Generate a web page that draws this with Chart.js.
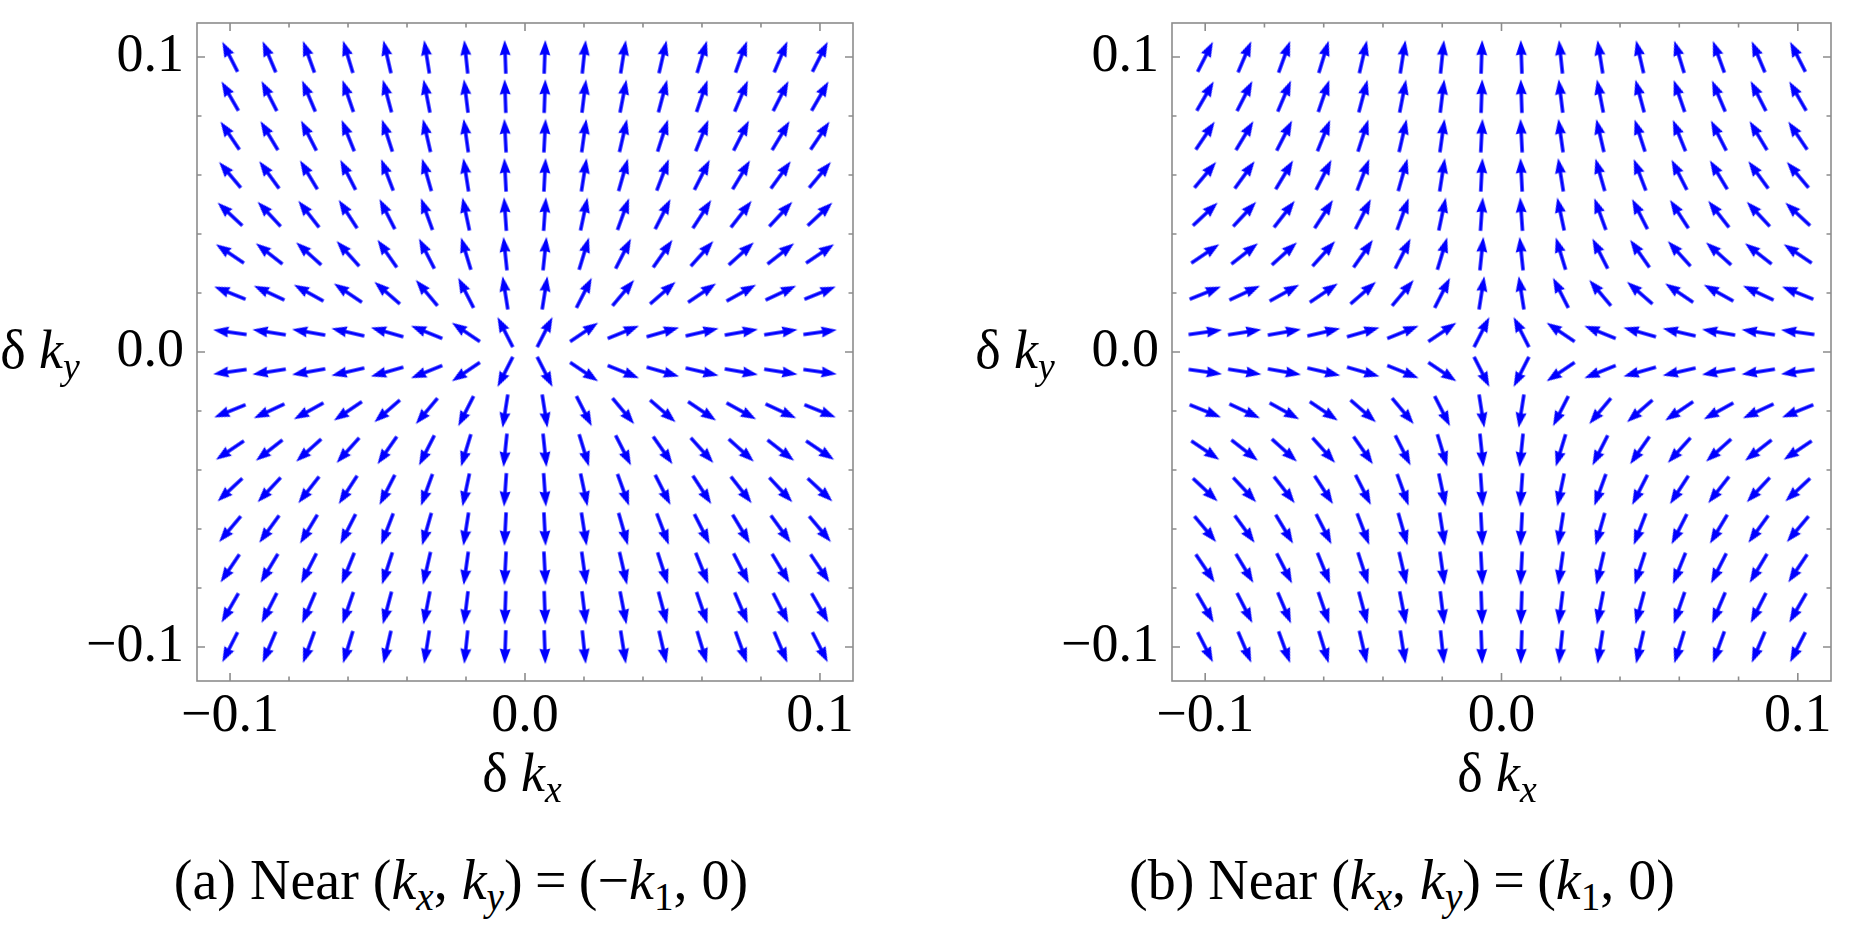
<!DOCTYPE html>
<html>
<head>
<meta charset="utf-8">
<script src="https://cdn.jsdelivr.net/npm/chart.js@4.4.0/dist/chart.umd.min.js"></script>
<style>
  body { margin: 0; background: #fff; width: 1850px; height: 932px; overflow: hidden; position: relative;
         font-family: "Liberation Serif", "Times New Roman", serif; }
  canvas { position: absolute; top: 0; }
  .lab { position: absolute; color: #000; white-space: nowrap; line-height: 1; transform: translate(-50%, -50%); }
  .axis { font-size: 54px; }
  .cap { font-size: 56px; }
  .lab sub { font-size: 0.7em; vertical-align: -0.28em; line-height: 0; }
  .m { margin: 0 0.22em; }
</style>
</head>
<body>
<canvas id="chartA" width="900" height="760" style="left:0px"></canvas>
<canvas id="chartB" width="920" height="760" style="left:930px"></canvas>

<div class="lab axis" style="left:40px; top:350px">δ <i>k<sub>y</sub></i></div>
<div class="lab axis" style="left:1015px; top:350px">δ <i>k<sub>y</sub></i></div>
<div class="lab axis" style="left:522px; top:773px">δ <i>k<sub>x</sub></i></div>
<div class="lab axis" style="left:1497px; top:773px">δ <i>k<sub>x</sub></i></div>
<div class="lab cap" style="left:461px; top:880px">(a) Near (<i>k<sub>x</sub></i>, <i>k<sub>y</sub></i>)<span class="m">=</span>(−<i>k</i><sub>1</sub>, 0)</div>
<div class="lab cap" style="left:1402px; top:880px">(b) Near (<i>k<sub>x</sub></i>, <i>k<sub>y</sub></i>)<span class="m">=</span>(<i>k</i><sub>1</sub>, 0)</div>

<script>
// arrow positions (grid of the vector plot)
const gridX = [-0.1, -0.0867, -0.0733, -0.06, -0.0467, -0.0333, -0.02, -0.0067,
               0.0067, 0.02, 0.0333, 0.0467, 0.06, 0.0733, 0.0867, 0.1];
// rows from top to bottom
const gridY = [0.1, 0.0867, 0.0733, 0.06, 0.0467, 0.0333, 0.02, 0.0067,
               -0.0067, -0.02, -0.0333, -0.0467, -0.06, -0.0733, -0.0867, -0.1];

// frame ticks
const tickValues = [-0.1, -0.08, -0.06, -0.04, -0.02, 0, 0.02, 0.04, 0.06, 0.08, 0.1];
const tickLabelValues = [-0.1, 0, 0.1];
const tickLabels = ['\u22120.1', '0.0', '0.1'];

// arrow directions in degrees (counter-clockwise from +x)
const anglesA = [
  [117, 113, 110, 107, 103, 99, 96, 92, 88, 84, 81, 77, 73, 70, 67, 63],
  [120, 117, 113, 109, 105, 101, 97, 92, 88, 83, 79, 75, 71, 67, 63, 60],
  [124, 121, 117, 112, 108, 103, 98, 93, 87, 82, 77, 72, 68, 63, 59, 56],
  [130, 126, 121, 117, 111, 106, 99, 93, 87, 81, 74, 69, 63, 59, 54, 50],
  [137, 133, 128, 123, 117, 110, 102, 94, 86, 78, 70, 63, 57, 52, 47, 43],
  [146, 142, 138, 132, 125, 117, 107, 96, 84, 73, 63, 55, 48, 42, 38, 34],
  [158, 155, 151, 146, 139, 130, 117, 99, 81, 63, 50, 41, 34, 29, 25, 22],
  [172, 171, 170, 167, 164, 158, 146, 117, 63, 34, 22, 16, 13, 10, 9, 8],
  [-172, -171, -170, -167, -164, -158, -146, -117, -63, -34, -22, -16, -13, -10, -9, -8],
  [-158, -155, -151, -146, -139, -130, -117, -99, -81, -63, -50, -41, -34, -29, -25, -22],
  [-146, -142, -138, -132, -125, -117, -107, -96, -84, -73, -63, -55, -48, -42, -38, -34],
  [-137, -133, -128, -123, -117, -110, -102, -94, -86, -78, -70, -63, -57, -52, -47, -43],
  [-130, -126, -121, -117, -111, -106, -99, -93, -87, -81, -74, -69, -63, -59, -54, -50],
  [-124, -121, -117, -112, -108, -103, -98, -93, -87, -82, -77, -72, -68, -63, -59, -56],
  [-120, -117, -113, -109, -105, -101, -97, -92, -88, -83, -79, -75, -71, -67, -63, -60],
  [-117, -113, -110, -107, -103, -99, -96, -92, -88, -84, -81, -77, -73, -70, -67, -63]
];

const anglesB = [
  [63, 67, 70, 73, 77, 81, 84, 88, 92, 96, 99, 103, 107, 110, 113, 117],
  [60, 63, 67, 71, 75, 79, 83, 88, 92, 97, 101, 105, 109, 113, 117, 120],
  [56, 59, 63, 68, 72, 77, 82, 87, 93, 98, 103, 108, 112, 117, 121, 124],
  [50, 54, 59, 63, 69, 74, 81, 87, 93, 99, 106, 111, 117, 121, 126, 130],
  [43, 47, 52, 57, 63, 70, 78, 86, 94, 102, 110, 117, 123, 128, 133, 137],
  [34, 38, 42, 48, 55, 63, 73, 84, 96, 107, 117, 125, 132, 138, 142, 146],
  [22, 25, 29, 34, 41, 50, 63, 81, 99, 117, 130, 139, 146, 151, 155, 158],
  [8, 9, 10, 13, 16, 22, 34, 63, 117, 146, 158, 164, 167, 170, 171, 172],
  [-8, -9, -10, -13, -16, -22, -34, -63, -117, -146, -158, -164, -167, -170, -171, -172],
  [-22, -25, -29, -34, -41, -50, -63, -81, -99, -117, -130, -139, -146, -151, -155, -158],
  [-34, -38, -42, -48, -55, -63, -73, -84, -96, -107, -117, -125, -132, -138, -142, -146],
  [-43, -47, -52, -57, -63, -70, -78, -86, -94, -102, -110, -117, -123, -128, -133, -137],
  [-50, -54, -59, -63, -69, -74, -81, -87, -93, -99, -106, -111, -117, -121, -126, -130],
  [-56, -59, -63, -68, -72, -77, -82, -87, -93, -98, -103, -108, -112, -117, -121, -124],
  [-60, -63, -67, -71, -75, -79, -83, -88, -92, -97, -101, -105, -109, -113, -117, -120],
  [-63, -67, -70, -73, -77, -81, -84, -88, -92, -96, -99, -103, -107, -110, -113, -117]
];

const tickFont = { family: '"Liberation Serif", "Times New Roman", serif', size: 54 };

// one arrow pointing right, drawn big and shown small so it stays sharp
function makeArrow() {
  const s = 4, w = 34, h = 12;
  const c = document.createElement('canvas');
  c.width = w * s;
  c.height = h * s;
  const g = c.getContext('2d');
  g.scale(s, s);
  g.fillStyle = '#0000ff';
  g.fillRect(0.3, 4.3, 20.5, 3.4);
  g.beginPath();
  g.moveTo(34, 6);
  g.lineTo(18.5, 0.5);
  g.lineTo(20, 6);
  g.lineTo(18.5, 11.5);
  g.closePath();
  g.fill();
  const img = new Image(w, h);
  img.src = c.toDataURL();
  return img;
}

function toPoints(angles) {
  const pts = [];
  gridY.forEach((y, r) => {
    gridX.forEach((x, c) => pts.push({ x: x, y: y, a: angles[r][c] }));
  });
  return pts;
}

function tickLabel(v) {
  const k = tickLabelValues.findIndex(m => Math.abs(m - v) < 1e-9);
  return k < 0 ? '' : tickLabels[k];
}

// Mathematica style frame with inward ticks on all four sides
const framePlugin = {
  id: 'frame',
  afterDraw(chart) {
    const ctx = chart.ctx;
    const a = chart.chartArea;
    const x = chart.scales.x, y = chart.scales.y;
    ctx.save();
    ctx.strokeStyle = '#8c8c8c';
    ctx.lineWidth = 1.6;
    ctx.strokeRect(a.left, a.top, a.right - a.left, a.bottom - a.top);
    ctx.beginPath();
    tickValues.forEach(v => {
      const len = tickLabel(v) ? 8 : 4.5;
      const px = x.getPixelForValue(v), py = y.getPixelForValue(v);
      ctx.moveTo(px, a.bottom); ctx.lineTo(px, a.bottom - len);
      ctx.moveTo(px, a.top); ctx.lineTo(px, a.top + len);
      ctx.moveTo(a.left, py); ctx.lineTo(a.left + len, py);
      ctx.moveTo(a.right, py); ctx.lineTo(a.right - len, py);
    });
    ctx.stroke();
    ctx.restore();
  }
};

function makeChart(id, angles, yWidth, padRight, arrow) {
  return new Chart(document.getElementById(id), {
    type: 'scatter',
    data: {
      datasets: [{
        data: toPoints(angles),
        pointStyle: arrow,
        pointRadius: 17,
        pointRotation: c => -c.raw.a,
        showLine: false
      }]
    },
    options: {
      responsive: false,
      animation: false,
      events: [],
      layout: { padding: { top: 23, right: padRight, left: 0, bottom: 0 } },
      plugins: { legend: { display: false }, tooltip: { enabled: false } },
      scales: {
        x: {
          type: 'linear', bounds: 'data', min: -0.1112, max: 0.1112,
          grid: { display: false, drawTicks: false }, border: { display: false },
          afterBuildTicks: s => { s.ticks = tickValues.map(v => ({ value: v })); },
          afterFit: s => { s.height = 79; s.paddingLeft = 0; s.paddingRight = 0; },
          ticks: { autoSkip: false, maxRotation: 0, padding: 3, color: '#000', font: tickFont,
                   callback: v => tickLabel(v) }
        },
        y: {
          type: 'linear', bounds: 'data', min: -0.1115, max: 0.1115,
          grid: { display: false, drawTicks: false }, border: { display: false },
          afterBuildTicks: s => { s.ticks = tickValues.map(v => ({ value: v })); },
          afterFit: s => { s.width = yWidth; s.paddingTop = 0; s.paddingBottom = 0; },
          ticks: { autoSkip: false, padding: 13, color: '#000', font: tickFont,
                   callback: v => tickLabel(v) }
        }
      }
    },
    plugins: [framePlugin]
  });
}

const arrow = makeArrow();
arrow.onload = () => {
  makeChart('chartA', anglesA, 197, 47, arrow);
  makeChart('chartB', anglesB, 242, 19, arrow);
};
</script>
</body>
</html>
